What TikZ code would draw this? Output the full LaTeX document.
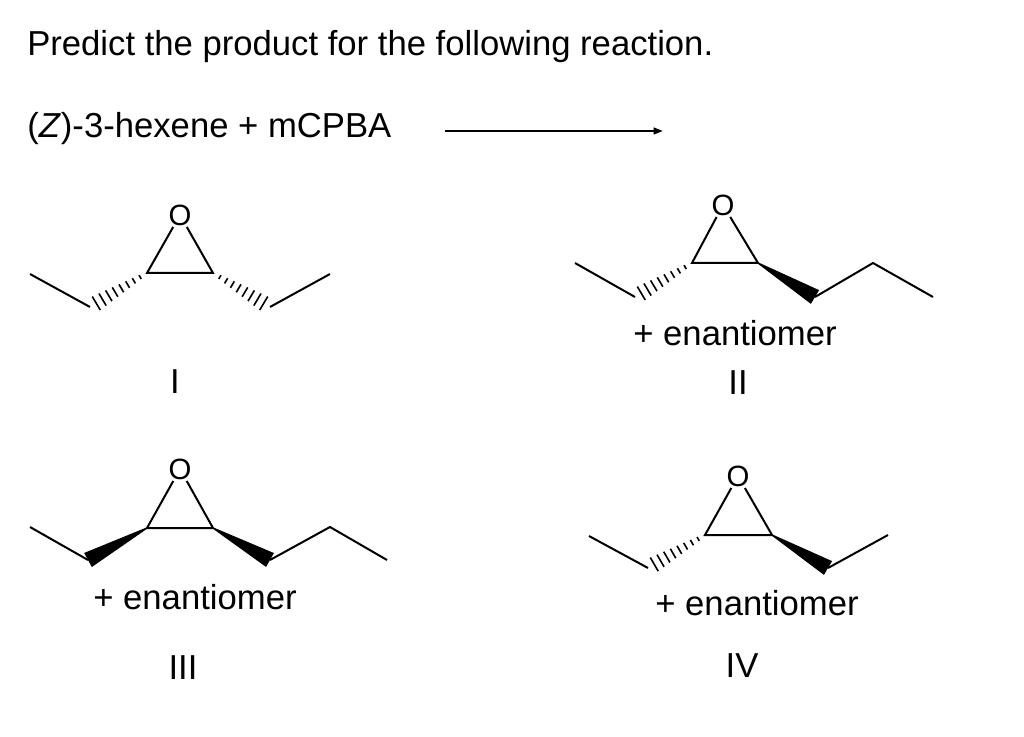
\documentclass[tikz,border=0pt]{standalone}
\usepackage{fontspec}
\setmainfont{Liberation Sans}
\usetikzlibrary{calc,arrows.meta}
\tikzset{
  bond/.style={line width=1.5pt},
  atom/.style={inner sep=1pt,font=\fontsize{22}{26}\selectfont},
  lbl/.style={inner sep=0pt,font=\fontsize{26}{30}\selectfont},
  hashline/.style={line width=1.2pt},
}
\newcommand{\hashbond}[2]{%
  \foreach \t in {0.12,0.23,...,1.0}{%
    \pgfmathsetmacro{\hh}{1.0+5.5*\t}%
    \coordinate (hm) at ($(#1)!\t!(#2)$);
    \draw[hashline] ($(hm)!\hh pt!90:(#2)$) -- ($(hm)!\hh pt!-90:(#2)$);
  }}
\newcommand{\wedgebond}[2]{%
  \fill ($(#1)!0.5pt!90:(#2)$) -- ($(#2)!6pt!-90:(#1)$) -- ($(#2)!6pt!90:(#1)$) -- ($(#1)!0.5pt!-90:(#2)$) -- cycle;}
\begin{document}
\begin{tikzpicture}[x=0.75pt,y=-0.75pt]
\useasboundingbox (0,0) rectangle (1024,737);
\fill[white] (0,0) rectangle (1024,737);
\node[lbl,anchor=base west] (title) at (27,56) {Predict the product for the following reaction.};
\node[lbl,anchor=base west] (react) at (27,138) {(\textit{Z})-3-hexene + mCPBA};
\coordinate (a1) at (445,131); \coordinate (a2) at (663,131);
\draw[line width=1.6pt,-{Triangle[length=7pt,width=5pt]}] (a1) -- (a2);
% I
\node[atom] (O1) at (180,215) {O};
\coordinate (c1a) at (147,273); \coordinate (c1b) at (213,273);
\coordinate (h1a) at (90,307); \coordinate (e1a) at (30,274);
\coordinate (h1b) at (270,307); \coordinate (e1b) at (330,274);
\draw[bond] (O1) -- (c1a) -- (c1b) -- (O1);
\hashbond{c1a}{h1a} \hashbond{c1b}{h1b}
\draw[bond] (h1a) -- (e1a); \draw[bond] (h1b) -- (e1b);
\node[lbl] (L1) at (175,382) {I};
% II
\node[atom] (O2) at (723,205) {O};
\coordinate (c2a) at (692,263); \coordinate (c2b) at (758,263);
\coordinate (h2a) at (635,297); \coordinate (e2a) at (575,263);
\coordinate (w2b) at (815,297); \coordinate (p2b) at (873,263); \coordinate (e2b) at (933,297);
\draw[bond] (O2) -- (c2a) -- (c2b) -- (O2);
\hashbond{c2a}{h2a} \wedgebond{c2b}{w2b}
\draw[bond] (h2a) -- (e2a); \draw[bond] (w2b) -- (p2b) -- (e2b);
\node[lbl] (en2) at (735,333) {+ enantiomer};
\node[lbl] (L2) at (738,383) {II};
% III
\node[atom] (O3) at (180,469) {O};
\coordinate (c3a) at (147,528); \coordinate (c3b) at (213,528);
\coordinate (w3a) at (88,560); \coordinate (e3a) at (30,527);
\coordinate (w3b) at (270,560); \coordinate (p3b) at (330,527); \coordinate (e3b) at (387,560);
\draw[bond] (O3) -- (c3a) -- (c3b) -- (O3);
\wedgebond{c3a}{w3a} \wedgebond{c3b}{w3b}
\draw[bond] (w3a) -- (e3a); \draw[bond] (w3b) -- (p3b) -- (e3b);
\node[lbl] (en3) at (195,597) {+ enantiomer};
\node[lbl] (L3) at (183,668) {III};
% IV
\node[atom] (O4) at (738,476) {O};
\coordinate (c4a) at (705,535); \coordinate (c4b) at (772,535);
\coordinate (h4a) at (648,568); \coordinate (e4a) at (589,536);
\coordinate (w4b) at (828,568); \coordinate (e4b) at (888,535);
\draw[bond] (O4) -- (c4a) -- (c4b) -- (O4);
\hashbond{c4a}{h4a} \wedgebond{c4b}{w4b}
\draw[bond] (h4a) -- (e4a); \draw[bond] (w4b) -- (e4b);
\node[lbl] (en4) at (757,603) {+ enantiomer};
\node[lbl] (L4) at (742,666) {IV};
\end{tikzpicture}
\end{document}
